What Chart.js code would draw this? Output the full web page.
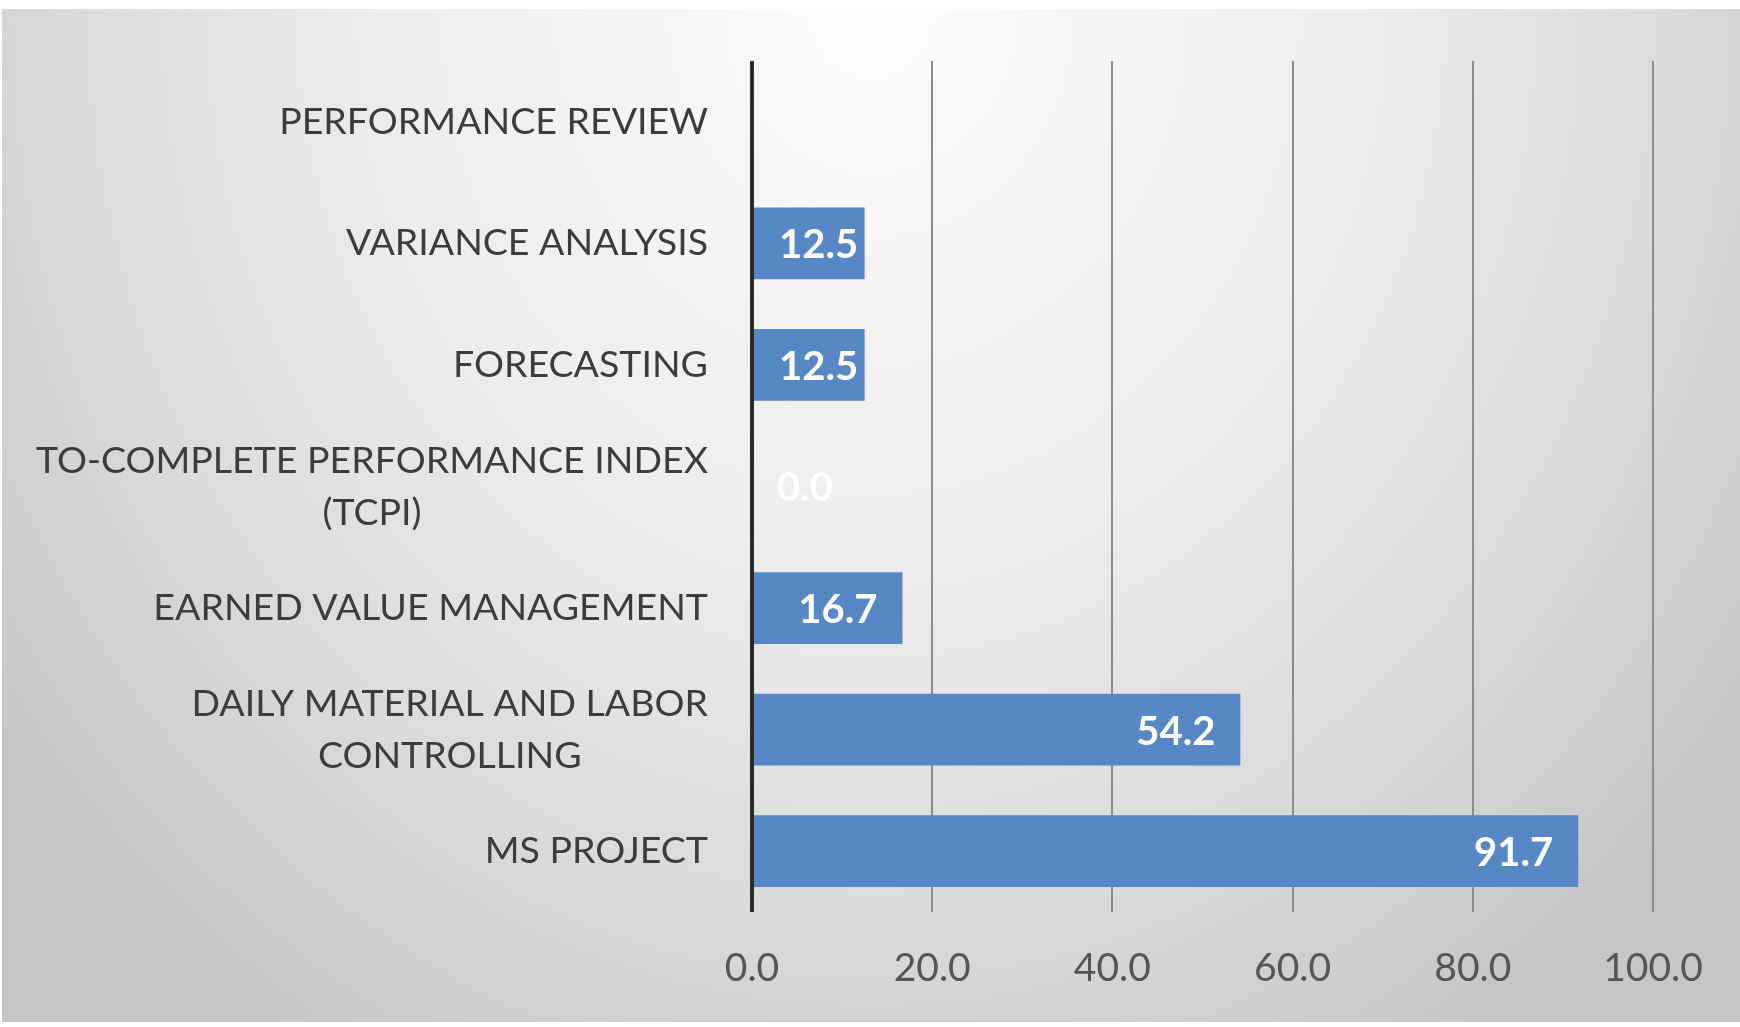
<!DOCTYPE html>
<html>
<head>
<meta charset="utf-8">
<script src="https://cdn.jsdelivr.net/npm/chart.js@4"></script>
<style>
    html, body { margin: 0; padding: 0; background: #fff; }
    #wrap { position: relative; width: 1740px; height: 1027px; }
    #bg {
        position: absolute; left: 2px; top: 9px; width: 1738px; height: 1013px;
        background: radial-gradient(ellipse 62% 120% at 50% 0%, #fcfcfc 0%, #ededed 45%, #dadada 75%, #c6c6c6 100%);
    }
    #chart { position: absolute; left: 0; top: 0; }
</style>
</head>
<body>
<div id="wrap">
    <div id="bg"></div>
    <canvas id="chart" width="1740" height="1027"></canvas>
</div>
<script>
// categories, top to bottom
const categories = [
    ['PERFORMANCE REVIEW'],
    ['VARIANCE ANALYSIS'],
    ['FORECASTING'],
    ['TO-COMPLETE PERFORMANCE INDEX', '(TCPI)'],
    ['EARNED VALUE MANAGEMENT'],
    ['DAILY MATERIAL AND LABOR', 'CONTROLLING'],
    ['MS PROJECT']
];
const values = [null, 12.5, 12.5, 0.0, 16.7, 54.2, 91.7];
const xTicks = [0, 20, 40, 60, 80, 100];

const FONT = 'Lato, "Open Sans", sans-serif';

// category labels: block right aligned, lines centred inside the block
const categoryLabels = {
    id: 'categoryLabels',
    afterDraw(chart) {
        const ctx = chart.ctx;
        const y = chart.scales.y;
        const right = 708;
        const lineH = 52;
        ctx.save();
        ctx.font = '37.5px ' + FONT;
        ctx.fillStyle = '#3c3c3c';
        ctx.textAlign = 'center';
        ctx.textBaseline = 'middle';
        categories.forEach((lines, i) => {
            const cy = y.getPixelForTick(i);
            const w = Math.max(...lines.map(l => ctx.measureText(l).width));
            const cx = right - w / 2;
            const y0 = cy - (lines.length - 1) * lineH / 2;
            lines.forEach((l, j) => ctx.fillText(l, cx, y0 + j * lineH));
        });
        ctx.restore();
    }
};

// value labels inside the bar end
const valueLabels = {
    id: 'valueLabels',
    afterDatasetsDraw(chart) {
        const ctx = chart.ctx;
        const meta = chart.getDatasetMeta(0);
        ctx.save();
        ctx.font = 'bold 40px ' + FONT;
        ctx.fillStyle = '#ffffff';
        ctx.textAlign = 'left';
        ctx.textBaseline = 'middle';
        meta.data.forEach((bar, i) => {
            if (values[i] === null) return;
            const txt = values[i].toFixed(1);
            const w = ctx.measureText(txt).width;
            const rightEdge = Math.max(bar.base + 25 + w, bar.x - 25);
            ctx.fillText(txt, rightEdge - w, bar.y + 2);
        });
        ctx.restore();
    }
};

new Chart(document.getElementById('chart'), {
    type: 'bar',
    data: {
        labels: categories,
        datasets: [{
            data: values,
            backgroundColor: '#5787c4',
            borderWidth: 0,
            barPercentage: 0.59,
            categoryPercentage: 1
        }]
    },
    options: {
        indexAxis: 'y',
        responsive: false,
        animation: false,
        layout: { padding: { top: 61, right: 87, bottom: 0, left: 0 } },
        plugins: {
            legend: { display: false },
            tooltip: { enabled: false }
        },
        scales: {
            x: {
                min: 0,
                max: 100,
                afterFit: (s) => { s.height = 115; },
                afterBuildTicks: (s) => { s.ticks = xTicks.map(v => ({ value: v })); },
                border: { display: false },
                grid: {
                    drawTicks: false,
                    color: (c) => c.tick && c.tick.value === 0 ? '#2b2b2b' : '#8c8c8c',
                    lineWidth: (c) => c.tick && c.tick.value === 0 ? 4 : 2
                },
                ticks: {
                    padding: 33,
                    color: '#555555',
                    font: { family: FONT, size: 39 },
                    callback: (v) => Number(v).toFixed(1)
                }
            },
            y: {
                afterFit: (s) => { s.width = 752; },
                border: { display: false },
                grid: { display: false },
                ticks: { display: false }
            }
        }
    },
    plugins: [categoryLabels, valueLabels]
});
</script>
</body>
</html>
